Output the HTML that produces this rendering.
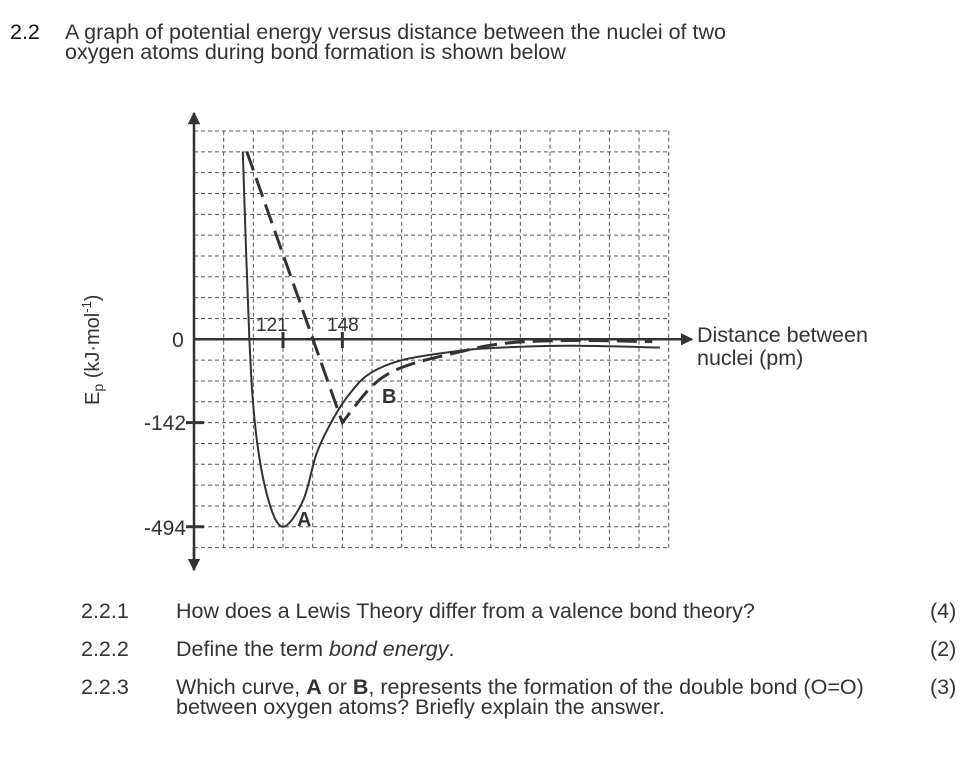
<!DOCTYPE html>
<html><head><meta charset="utf-8">
<style>
body{margin:0;background:#fff;width:975px;height:781px;position:relative;overflow:hidden;font-family:"Liberation Sans",Arial,sans-serif;color:#333;}
.t{position:absolute;font-size:21.5px;white-space:nowrap;line-height:20px;}
svg{position:absolute;left:0;top:0}
</style></head><body>
<div class="t" style="left:10px;top:22px;color:#111">2.2</div>
<div class="t" style="left:65px;top:22px">A graph of potential energy versus distance between the nuclei of two<br>oxygen atoms during bond formation is shown below</div>

<svg width="975" height="781" id="chart">
<defs><marker id="ar" viewBox="0 0 10 10" refX="9" refY="5" markerWidth="5" markerHeight="5" orient="auto"><path d="M0,0L10,5L0,10z" fill="#333"/></marker></defs>
<g id="grid"></g>
<line x1="194" y1="560" x2="194" y2="113" stroke="#333" stroke-width="2.5" marker-end="url(#ar)"/>
<line x1="194" y1="547" x2="194" y2="570" stroke="#333" stroke-width="2.5" marker-end="url(#ar)"/>
<line x1="194" y1="339.3" x2="692" y2="339.3" stroke="#333" stroke-width="2.5" marker-end="url(#ar)"/>
<g id="ticks"></g>
<path id="curveA" fill="none" stroke="#333" stroke-width="2"/>
<path id="curveB" fill="none" stroke="#333" stroke-width="3" stroke-dasharray="20,8"/>
<text x="178" y="347" font-size="21" fill="#333" text-anchor="middle" font-family="Liberation Sans">0</text>
<text x="186" y="430" font-size="21" fill="#333" text-anchor="end" font-family="Liberation Sans">-142</text>
<text x="186" y="535" font-size="21" fill="#333" text-anchor="end" font-family="Liberation Sans">-494</text>
<text x="256" y="331" font-size="19" fill="#333" font-family="Liberation Sans">121</text>
<text x="327" y="331" font-size="19" fill="#333" font-family="Liberation Sans">148</text>
<text x="297" y="526" font-size="20" fill="#333" font-weight="bold" font-family="Liberation Sans">A</text>
<text x="382" y="403" font-size="20" fill="#333" font-weight="bold" font-family="Liberation Sans">B</text>
<text transform="translate(99,405) rotate(-90)" font-size="20" fill="#333" font-family="Liberation Sans">E<tspan font-size="14" dy="4">p</tspan><tspan dy="-4"> (kJ·mol</tspan><tspan font-size="13" dy="-8">-1</tspan><tspan dy="8">)</tspan></text>
<text x="697" y="342" font-size="21.5" fill="#333" font-family="Liberation Sans">Distance between</text>
<text x="697" y="365" font-size="21.5" fill="#333" font-family="Liberation Sans">nuclei (pm)</text>
</svg>

<div class="t" style="left:81px;top:601px">2.2.1</div>
<div class="t" style="left:176px;top:601px">How does a Lewis Theory differ from a valence bond theory?</div>
<div class="t" style="left:930px;top:601px">(4)</div>
<div class="t" style="left:81px;top:639px">2.2.2</div>
<div class="t" style="left:176px;top:639px">Define the term <i>bond energy</i>.</div>
<div class="t" style="left:930px;top:639px">(2)</div>
<div class="t" style="left:81px;top:677px">2.2.3</div>
<div class="t" style="left:176px;top:677px">Which curve, <b>A</b> or <b>B</b>, represents the formation of the double bond (O=O)<br>between oxygen atoms? Briefly explain the answer.</div>
<div class="t" style="left:930px;top:677px">(3)</div>

<script>
const distA=[102.7,105.7,108.7,114.3,121,130.2,136.3,143.9,151.5,160.6,175.7,198.5,215.2,251.6,292.5];
const energyA=[320,0,-177,-402,-494,-404,-246,-135,-92,-58,-35,-21,-15,-11,-14];
const distB=[104.5,148,162,175.7,198.5,221.3,251.6,289];
const energyB=[320,-142,-78,-47,-24,-7,-2,-4];
const xTicks=[121,148];
const yTicks=[0,-142,-494];
const NS='http://www.w3.org/2000/svg';
function xs(pm){return 194+(pm-80.5)/13.5*29.67;}
function ys(e){let c;
 if(e>=-142)c=-e/35.5;
 else c=4+(-142-e)/70.4;
 return 339.3+c*20.83;}
const grid=document.getElementById('grid');
for(let k=1;k<=16;k++){const l=document.createElementNS(NS,'line');const x=194+k*29.67;
 l.setAttribute('x1',x);l.setAttribute('x2',x);l.setAttribute('y1',130.7);l.setAttribute('y2',548.3);
 l.setAttribute('stroke','#555');l.setAttribute('stroke-width','1');l.setAttribute('stroke-dasharray','4,3');
 
 
 grid.appendChild(l);}
for(let j=-10;j<=10;j++){if(j===0)continue;const l=document.createElementNS(NS,'line');const y=339.3+j*20.83;
 l.setAttribute('x1',194);l.setAttribute('x2',668.7);l.setAttribute('y1',y);l.setAttribute('y2',y);
 l.setAttribute('stroke','#555');l.setAttribute('stroke-width','1');l.setAttribute('stroke-dasharray','4,3');
 
 
 grid.appendChild(l);}
const ticks=document.getElementById('ticks');
xTicks.forEach(v=>{const l=document.createElementNS(NS,'line');
 l.setAttribute('x1',xs(v));l.setAttribute('x2',xs(v));l.setAttribute('y1',332);l.setAttribute('y2',348);
 l.setAttribute('stroke','#333');l.setAttribute('stroke-width','3');
 
 
 ticks.appendChild(l);});
yTicks.forEach(v=>{if(v===0)return;const l=document.createElementNS(NS,'line');
 l.setAttribute('x1',186);l.setAttribute('x2',204);l.setAttribute('y1',ys(v));l.setAttribute('y2',ys(v));
 l.setAttribute('stroke','#333');l.setAttribute('stroke-width','3');
 
 
 ticks.appendChild(l);});
function smooth(xa,ya){const p=xa.map((d,i)=>[xs(d),ys(ya[i])]);let s='M'+p[0][0]+','+p[0][1];
 for(let i=0;i<p.length-1;i++){const p0=p[i-1]||p[i],p1=p[i],p2=p[i+1],p3=p[i+2]||p2;
  const c1=[p1[0]+(p2[0]-p0[0])/6,p1[1]+(p2[1]-p0[1])/6],c2=[p2[0]-(p3[0]-p1[0])/6,p2[1]-(p3[1]-p1[1])/6];
  s+=` C${c1[0]},${c1[1]} ${c2[0]},${c2[1]} ${p2[0]},${p2[1]}`;}
 return s;}
document.getElementById('curveA').setAttribute('d',smooth(distA,energyA));
let dB='M'+xs(distB[0])+','+ys(energyB[0])+' L'+xs(distB[1])+','+ys(energyB[1]);
dB+=smooth(distB.slice(1),energyB.slice(1)).replace(/^M[^C]*/,' ');
document.getElementById('curveB').setAttribute('d',dB);
</script>
</body></html>
